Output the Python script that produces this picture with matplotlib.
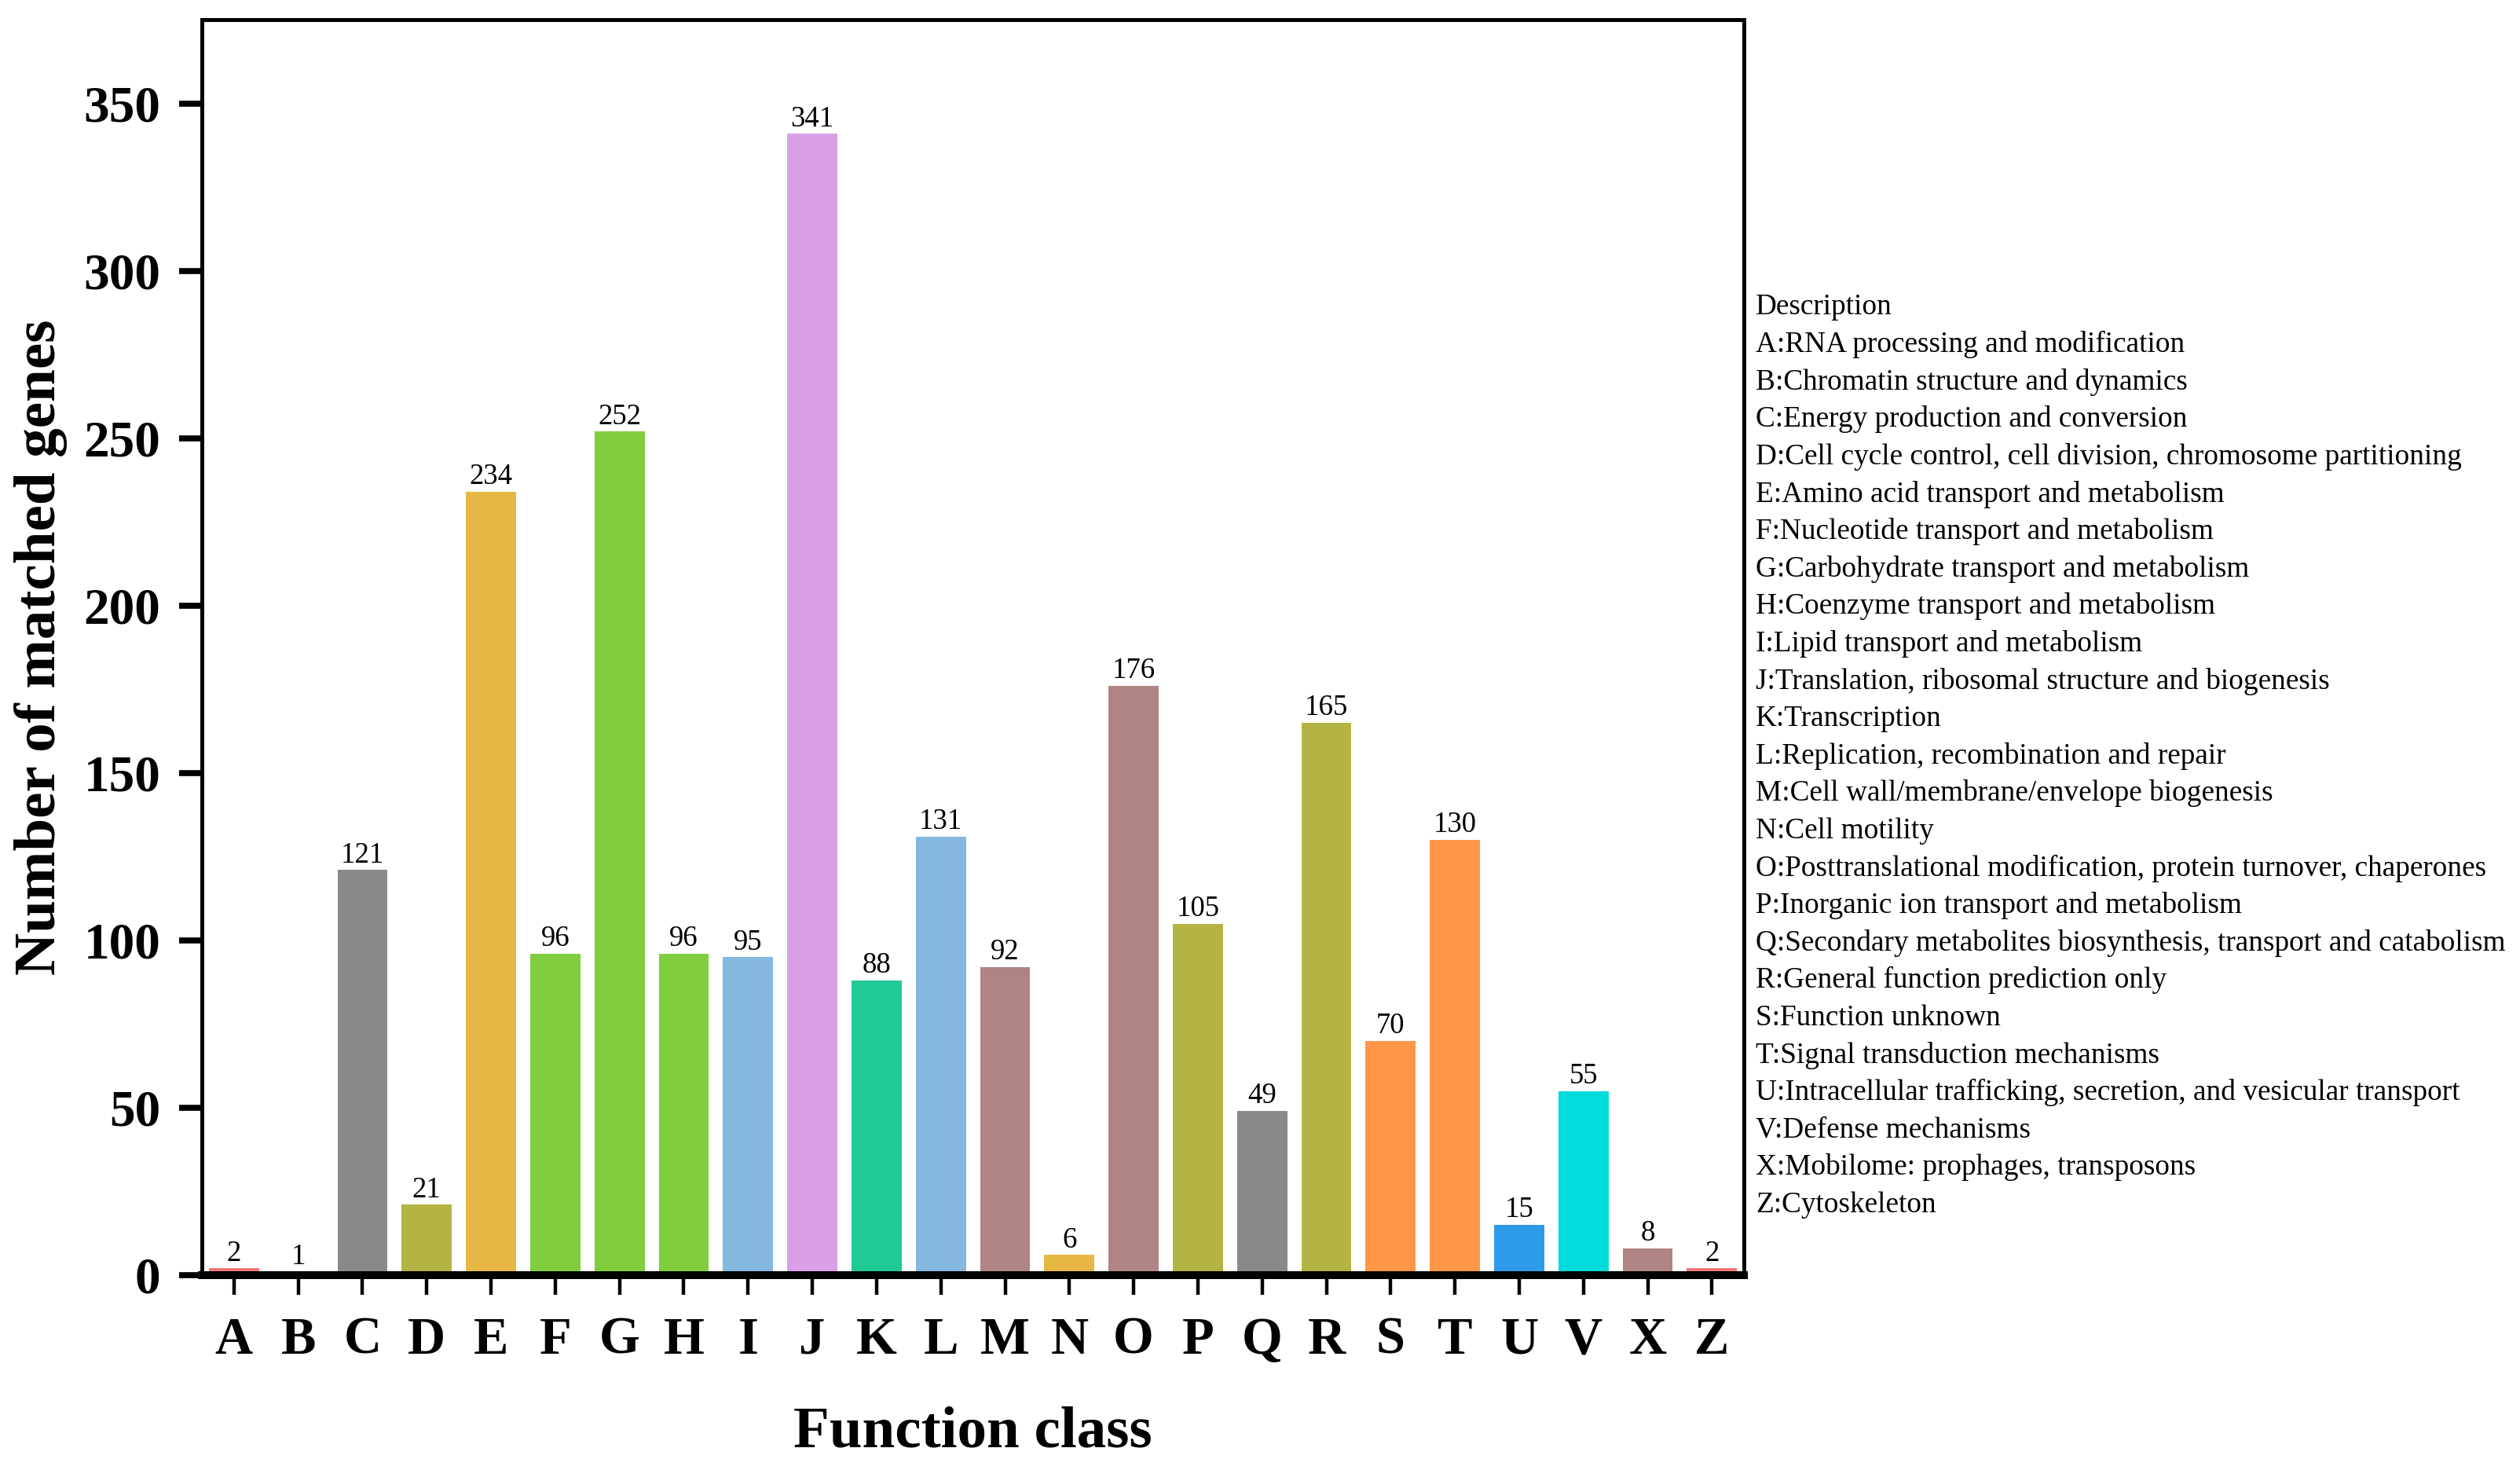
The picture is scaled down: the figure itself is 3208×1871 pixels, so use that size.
import matplotlib
matplotlib.use("Agg")
import matplotlib.pyplot as plt

categories = ["A", "B", "C", "D", "E", "F", "G", "H", "I", "J", "K", "L",
              "M", "N", "O", "P", "Q", "R", "S", "T", "U", "V", "X", "Z"]
values = [2, 1, 121, 21, 234, 96, 252, 96, 95, 341, 88, 131,
          92, 6, 176, 105, 49, 165, 70, 130, 15, 55, 8, 2]
colors = ["#F07878", "#B05050", "#898989", "#B3B444", "#E6B843", "#80CD3E",
          "#80CD3E", "#80CD3E", "#84B8DE", "#D9A0E8", "#20C996", "#84B8DE",
          "#B08483", "#E6B843", "#B08483", "#B3B444", "#898989", "#B3B444",
          "#FF9648", "#FF9648", "#2E9BEA", "#00DCDC", "#B08483", "#F07878"]
descriptions = [
    "Description",
    "A:RNA processing and modification",
    "B:Chromatin structure and dynamics",
    "C:Energy production and conversion",
    "D:Cell cycle control, cell division, chromosome partitioning",
    "E:Amino acid transport and metabolism",
    "F:Nucleotide transport and metabolism",
    "G:Carbohydrate transport and metabolism",
    "H:Coenzyme transport and metabolism",
    "I:Lipid transport and metabolism",
    "J:Translation, ribosomal structure and biogenesis",
    "K:Transcription",
    "L:Replication, recombination and repair",
    "M:Cell wall/membrane/envelope biogenesis",
    "N:Cell motility",
    "O:Posttranslational modification, protein turnover, chaperones",
    "P:Inorganic ion transport and metabolism",
    "Q:Secondary metabolites biosynthesis, transport and catabolism",
    "R:General function prediction only",
    "S:Function unknown",
    "T:Signal transduction mechanisms",
    "U:Intracellular trafficking, secretion, and vesicular transport",
    "V:Defense mechanisms",
    "X:Mobilome: prophages, transposons",
    "Z:Cytoskeleton",
]
yticks = [0, 50, 100, 150, 200, 250, 300, 350]

plt.rcParams['font.family'] = ['Liberation Serif', 'DejaVu Serif']

fig = plt.figure(figsize=(32.08, 18.71), dpi=100)
ax = fig.add_axes([0.0801, 0.1326, 0.6120, 0.8538])

x = list(range(len(categories)))
ax.bar(x, values, width=0.78, color=colors, zorder=2)
for xi, v in zip(x, values):
    ax.text(xi, v + 0.4, str(v), ha='center', va='bottom', fontsize=26.5, zorder=3)

ax.set_xlim(-0.5, len(categories) - 0.5)
ax.set_ylim(0, 375)
ax.set_yticks(yticks)
ax.set_xticks(x)
ax.set_xticklabels(categories)

for lbl in ax.get_yticklabels():
    lbl.set_fontweight('bold')
    lbl.set_fontsize(47)
for lbl in ax.get_xticklabels():
    lbl.set_fontweight('bold')
    lbl.set_fontsize(48)

ax.tick_params(axis='y', direction='out', length=21, width=5.5, pad=17)
ax.tick_params(axis='x', direction='out', length=18, width=3.2, pad=20)

for side in ['left', 'top', 'right']:
    ax.spines[side].set_linewidth(3.6)
ax.spines['bottom'].set_linewidth(7.2)
ax.spines['bottom'].set_zorder(4)

ax.set_ylabel("Number of matched genes", fontsize=54, fontweight='bold')
ax.yaxis.set_label_coords(-0.087, 0.5)
ax.set_xlabel("Function class", fontsize=54, fontweight='bold')
ax.xaxis.set_label_coords(0.5, -0.104)

y0 = 0.791
step = 0.02544
for i, d in enumerate(descriptions):
    fig.text(0.6967, y0 - i * step, d, fontsize=26.8, ha='left', va='center')

fig.savefig("out.png", dpi=100)
